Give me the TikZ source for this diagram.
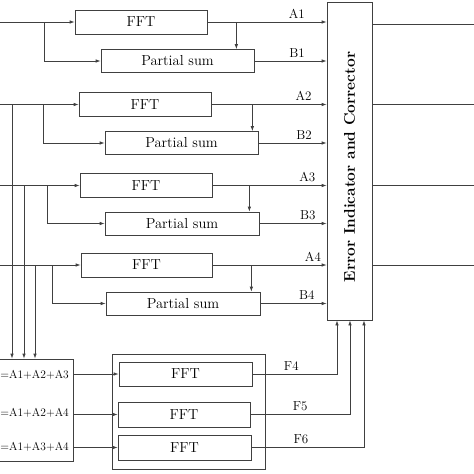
\documentclass[tikz,border=0pt]{standalone}
\usepackage{tikz}
\usetikzlibrary{arrows.meta,positioning}

\begin{document}
\begin{tikzpicture}[
  x=1pt, y=-1pt,
  line width=0.7pt, draw=black!75,
  every node/.style={font=\fontsize{14.5}{16}\selectfont, align=center},
  box/.style={draw=black!75, minimum height=24pt, inner sep=0pt},
  lbl/.style={font=\fontsize{13}{15}\selectfont, above=0pt},
  >={Latex[length=5pt,width=3.5pt]}
]
\useasboundingbox (0,0) rectangle (474,474);
\clip (0,0) rectangle (474,474);

% error indicator block
\node[box, minimum width=45pt, minimum height=318pt] (err) at (349.5,161) {};
\node[rotate=90, font=\fontsize{15.5}{17}\selectfont\bfseries] (errtxt) at (349.5,167) {Error Indicator and Corrector};

% four FFT / partial sum rows
\node[box, minimum width=132pt] (fft1) at (141,22) {FFT};
\node[box, minimum width=153pt, minimum height=23pt] (ps1) at (177.5,61) {Partial sum};
\node[box, minimum width=132pt] (fft2) at (145,104.5) {FFT};
\node[box, minimum width=153pt, minimum height=23pt] (ps2) at (181.5,143) {Partial sum};
\node[box, minimum width=132pt] (fft3) at (146,185.5) {FFT};
\node[box, minimum width=154pt, minimum height=23pt] (ps3) at (182,223.5) {Partial sum};
\node[box, minimum width=131pt] (fft4) at (146.5,265) {FFT};
\node[box, minimum width=154pt, minimum height=23pt] (ps4) at (183,303.5) {Partial sum};

% sums and second FFT group
\node[box, minimum width=113pt, minimum height=102pt] (sum) at (16.5,410) {};
\node[anchor=west, inner sep=0pt, font=\fontsize{11.5}{13}\selectfont] (s1) at (0,375) {=A1+A2+A3};
\node[anchor=west, inner sep=0pt, font=\fontsize{11.5}{13}\selectfont] (s2) at (0,413) {=A1+A2+A4};
\node[anchor=west, inner sep=0pt, font=\fontsize{11.5}{13}\selectfont] (s3) at (0,447) {=A1+A3+A4};
\node[box, minimum width=153pt, minimum height=115pt] (grp) at (188.5,411.5) {};
\node[box, minimum width=133pt] (f4) at (185.5,374) {FFT};
\node[box, minimum width=132pt, minimum height=25pt] (f5) at (184,414.5) {FFT};
\node[box, minimum width=133pt, minimum height=25pt] (f6) at (184.5,447.5) {FFT};

% inputs
\coordinate (in1) at (0,22);     \coordinate (br1) at (44,22);
\coordinate (in2) at (0,104.5);  \coordinate (br2) at (43,104.5);
\coordinate (in3) at (0,185.5);  \coordinate (br3) at (47,185.5);
\coordinate (in4) at (0,265);    \coordinate (br4) at (52,265);
\coordinate (v1) at (12,104.5);
\coordinate (v2) at (24,185.5);
\coordinate (v3) at (35,265);

\draw[->] (in1) -- (fft1);
\draw[->] (br1) |- (ps1);
\draw[->] (in2) -- (fft2);
\draw[->] (br2) |- (ps2);
\draw[->] (in3) -- (fft3);
\draw[->] (br3) |- (ps3);
\draw[->] (in4) -- (fft4);
\draw[->] (br4) |- (ps4);
\draw[->] (v1) -- (v1 |- sum.north);
\draw[->] (v2) -- (v2 |- sum.north);
\draw[->] (v3) -- (v3 |- sum.north);

% A and B signals
\draw[->] (fft1) -- (fft1 -| err.west) node[lbl, pos=0.75]{A1};
\draw[->] ([xshift=-18pt]ps1.north east |- fft1) -- ([xshift=-18pt]ps1.north east);
\draw[->] (ps1) -- (ps1 -| err.west) node[lbl, pos=0.59]{B1};
\draw[->] (fft2) -- (fft2 -| err.west) node[lbl, pos=0.8]{A2};
\draw[->] ([xshift=-6pt]ps2.north east |- fft2) -- ([xshift=-6pt]ps2.north east);
\draw[->] (ps2) -- (ps2 -| err.west) node[lbl, pos=0.67]{B2};
\draw[->] (fft3) -- (fft3 -| err.west) node[lbl, pos=0.83]{A3};
\draw[->] ([xshift=-10pt]ps3.north east |- fft3) -- ([xshift=-10pt]ps3.north east);
\draw[->] (ps3) -- (ps3 -| err.west) node[lbl, pos=0.72]{B3};
\draw[->] (fft4) -- (fft4 -| err.west) node[lbl, pos=0.88]{A4};
\draw[->] ([xshift=-9pt]ps4.north east |- fft4) -- ([xshift=-9pt]ps4.north east);
\draw[->] (ps4) -- (ps4 -| err.west) node[lbl, pos=0.7]{B4};

% sums into FFTs, FFTs into error block
\draw[->] (sum.east |- f4) -- (f4);
\draw[->] (sum.east |- f5) -- (f5);
\draw[->] (sum.east |- f6) -- (f6);
\draw[->] (f4) -| ([xshift=-12.5pt]err.south) node[lbl, pos=0.23]{F4};
\draw[->] (f5) -| ([xshift=0.5pt]err.south) node[lbl, pos=0.25]{F5};
\draw[->] (f6) -| ([xshift=14.5pt]err.south) node[lbl, pos=0.22]{F6};

% outputs
\draw (err.east |- fft1) ++(0,2) -- ++(110,0);
\draw (err.east |- fft2) -- ++(110,0);
\draw (err.east |- fft3) -- ++(110,0);
\draw (err.east |- fft4) -- ++(110,0);
\end{tikzpicture}
\end{document}
